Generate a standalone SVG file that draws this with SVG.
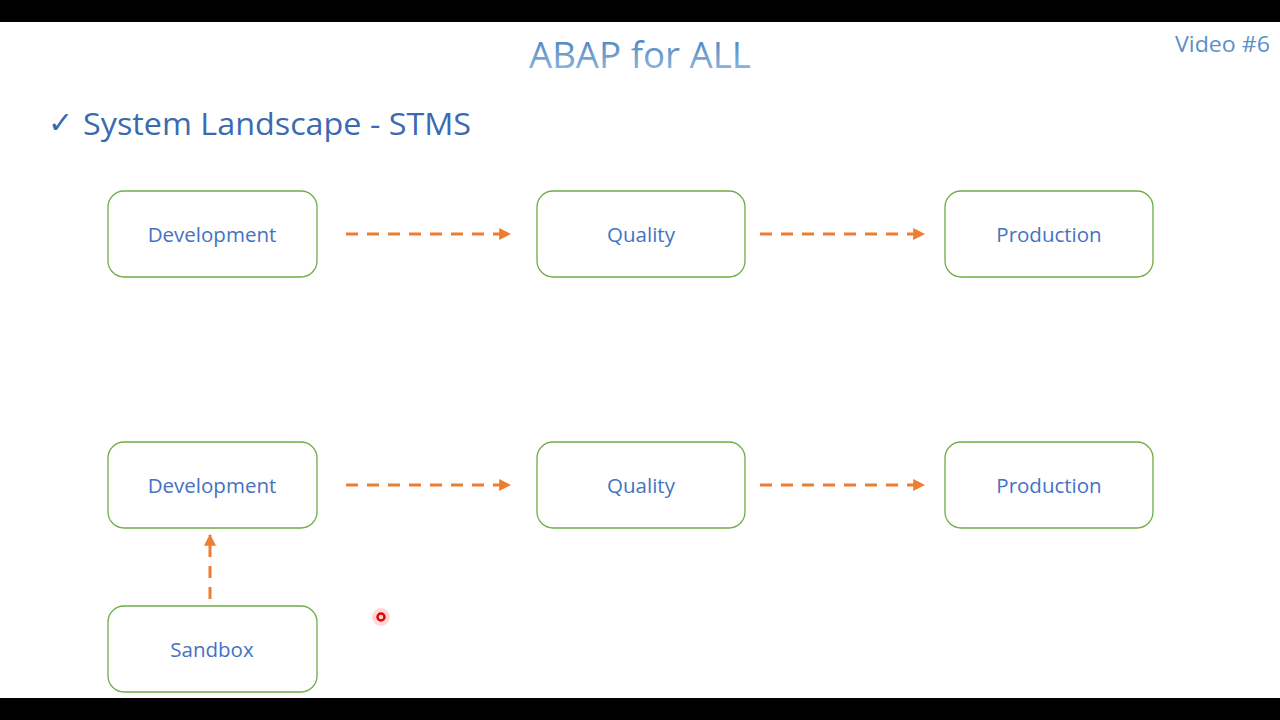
<svg xmlns="http://www.w3.org/2000/svg" width="1280" height="720" viewBox="0 0 1280 720">
<defs>
<style>
.box{fill:#fff;stroke:#70ad47;stroke-width:1.3}
.lbl{font-family:"Open Sans","Liberation Sans",sans-serif;font-size:20.5px;fill:#4472c4;text-anchor:middle}
.con{stroke:#ed7d31;stroke-width:3;stroke-dasharray:12,9;fill:none}
</style>
<marker id="ah" viewBox="0 0 10 10" refX="9" refY="5" markerWidth="4" markerHeight="4" orient="auto"><path d="M0,0L10,5L0,10z" fill="#ed7d31"/></marker>
<linearGradient id="tg" x1="0" y1="0" x2="0" y2="1"><stop offset="0" stop-color="#3e78b5"/><stop offset="1" stop-color="#9cc3e6"/></linearGradient>
</defs>
<rect width="1280" height="720" fill="#fff"/>
<rect width="1280" height="22" fill="#000"/>
<rect y="698" width="1280" height="22" fill="#000"/>
<text x="640" y="68" font-family="Open Sans,Liberation Sans,sans-serif" font-size="36" fill="url(#tg)" text-anchor="middle" textLength="222" lengthAdjust="spacingAndGlyphs">ABAP for ALL</text>
<text x="1270" y="52" font-family="Open Sans,Liberation Sans,sans-serif" font-size="22" fill="#5b8fc7" text-anchor="end" textLength="95" lengthAdjust="spacingAndGlyphs">Video #6</text>
<text x="48" y="133" font-family="DejaVu Sans,sans-serif" font-size="30" fill="#3a6ab0">✓</text>
<text x="83" y="135" font-family="Open Sans,Liberation Sans,sans-serif" font-size="31" fill="#3a6ab0" textLength="388" lengthAdjust="spacingAndGlyphs">System Landscape - STMS</text>
<g id="connectors">
<line class="con" x1="346" y1="234" x2="510" y2="234" marker-end="url(#ah)"/>
<line class="con" x1="760" y1="234" x2="924" y2="234" marker-end="url(#ah)"/>
<line class="con" x1="346" y1="485" x2="510" y2="485" marker-end="url(#ah)"/>
<line class="con" x1="760" y1="485" x2="924" y2="485" marker-end="url(#ah)"/>
<line class="con" x1="210" y1="599" x2="210" y2="535" marker-end="url(#ah)"/>
</g>
<g id="dev1"><rect class="box" x="108" y="191" width="209" height="86" rx="16"/><text class="lbl" x="212" y="242">Development</text></g>
<g id="qa1"><rect class="box" x="537" y="191" width="208" height="86" rx="16"/><text class="lbl" x="641" y="242">Quality</text></g>
<g id="prd1"><rect class="box" x="945" y="191" width="208" height="86" rx="16"/><text class="lbl" x="1049" y="242">Production</text></g>
<g id="dev2"><rect class="box" x="108" y="442" width="209" height="86" rx="16"/><text class="lbl" x="212" y="493">Development</text></g>
<g id="qa2"><rect class="box" x="537" y="442" width="208" height="86" rx="16"/><text class="lbl" x="641" y="493">Quality</text></g>
<g id="prd2"><rect class="box" x="945" y="442" width="208" height="86" rx="16"/><text class="lbl" x="1049" y="493">Production</text></g>
<g id="sandbox"><rect class="box" x="108" y="606" width="209" height="86" rx="16"/><text class="lbl" x="212" y="657">Sandbox</text></g>
<circle cx="381" cy="617" r="9" fill="#f00" opacity="0.15"/>
<circle cx="381" cy="617" r="3.5" fill="none" stroke="#e00" stroke-width="2.5"/>
</svg>
